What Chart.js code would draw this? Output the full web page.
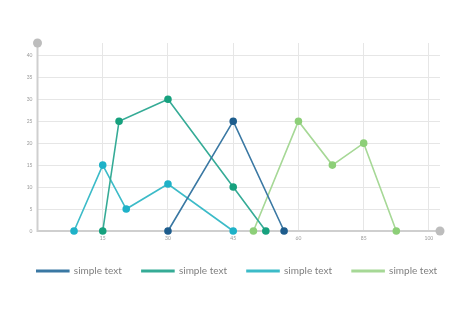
<!DOCTYPE html>
<html>
<head>
<meta charset="utf-8">
<script src="https://cdn.jsdelivr.net/npm/chart.js@4/dist/chart.umd.min.js"></script>
<style>
  html, body { margin: 0; padding: 0; background: #fff; }
  #wrap { width: 474px; height: 316px; }
</style>
</head>
<body>
<div id="wrap"><canvas id="chart" width="474" height="316"></canvas></div>
<script>
// ====== data ======
const xTickLabels = ["", "15", "30", "45", "60", "85", "100"];
const yTicks = [0, 5, 10, 15, 20, 25, 30, 35, 40];
const seriesNames = ["simple text", "simple text", "simple text", "simple text"];

// x values are in tick-step units (0..6)
const blueX = [2.0, 3.0, 3.78];
const blueY = [0, 25, 0];
const tealX = [1.0, 1.25, 2.0, 3.0, 3.5];
const tealY = [0, 25, 30, 10, 0];
const cyanX = [0.56, 1.0, 1.36, 2.0, 3.0];
const cyanY = [0, 15, 5, 10.7, 0];
const lightX = [3.31, 4.0, 4.52, 5.0, 5.5];
const lightY = [0, 25, 15, 20, 0];

const lineColors = ["#3a78a3", "#35ab96", "#3cbbc8", "#a6d896"];
const pointColors = ["#1e5d8d", "#17a17e", "#1fb2c8", "#8dcf78"];

function toPoints(xs, ys) {
  return xs.map((x, i) => ({ x, y: ys[i] }));
}

// ====== axis lines with round end caps ======
const axisEnds = {
  id: "axisEnds",
  beforeDatasetsDraw(chart) {
    const { ctx, chartArea: a } = chart;
    ctx.save();
    ctx.strokeStyle = "#cfcfcf";
    ctx.lineWidth = 2;
    ctx.beginPath();
    ctx.moveTo(a.left, a.top);
    ctx.lineTo(a.left, a.bottom);
    ctx.lineTo(a.right, a.bottom);
    ctx.stroke();
    ctx.fillStyle = "#bdbdbd";
    ctx.beginPath();
    ctx.arc(a.left, a.top, 4.5, 0, Math.PI * 2);
    ctx.fill();
    ctx.beginPath();
    ctx.arc(a.right, a.bottom, 4.5, 0, Math.PI * 2);
    ctx.fill();
    ctx.restore();
  },
};

const datasets = [
  [blueX, blueY],
  [tealX, tealY],
  [cyanX, cyanY],
  [lightX, lightY],
].map((s, i) => ({
  label: seriesNames[i],
  data: toPoints(s[0], s[1]),
  borderColor: lineColors[i],
  backgroundColor: lineColors[i],
  pointBackgroundColor: pointColors[i],
  pointBorderColor: pointColors[i],
  pointRadius: 3,
  borderWidth: 1.6,
  tension: 0,
}));

new Chart(document.getElementById("chart"), {
  type: "line",
  data: { datasets },
  plugins: [axisEnds],
  options: {
    responsive: false,
    animation: false,
    clip: false,
    layout: { padding: { top: 43, right: 0, bottom: 30, left: 0 } },
    plugins: {
      tooltip: { enabled: false },
      legend: {
        position: "bottom",
        labels: {
          boxWidth: 32,
          boxHeight: 1.5,
          padding: 20,
          color: "#808080",
          font: { family: "Lato", size: 10 },
        },
      },
    },
    scales: {
      x: {
        type: "linear",
        min: 0,
        max: 6.17,
        afterFit(scale) { scale.height = 15; },
        afterBuildTicks(scale) {
          scale.ticks = [1, 2, 3, 4, 5, 6].map((v) => ({ value: v }));
        },
        border: { display: false },
        grid: { color: "#e6e6e6", lineWidth: 1, drawTicks: false },
        ticks: {
          padding: 4,
          color: "#999",
          font: { family: "Lato", size: 5 },
          callback: (v) => xTickLabels[v] ?? "",
        },
      },
      y: {
        min: 0,
        max: 42.8,
        afterFit(scale) { scale.width = 37.5; },
        afterBuildTicks(scale) {
          scale.ticks = yTicks.map((v) => ({ value: v }));
        },
        border: { display: false },
        grid: {
          color: (c) => (c.tick && c.tick.value === 0 ? "rgba(0,0,0,0)" : "#e6e6e6"),
          lineWidth: 1,
          drawTicks: false,
        },
        ticks: {
          padding: 5,
          color: "#999",
          font: { family: "Lato", size: 5 },
        },
      },
      // empty right-hand scale, only reserves room for the x-axis end cap
      yPad: {
        position: "right",
        display: true,
        afterFit(scale) { scale.width = 34; },
        border: { display: false },
        grid: { display: false },
        ticks: { display: false },
      },
    },
  },
});
</script>
</body>
</html>
